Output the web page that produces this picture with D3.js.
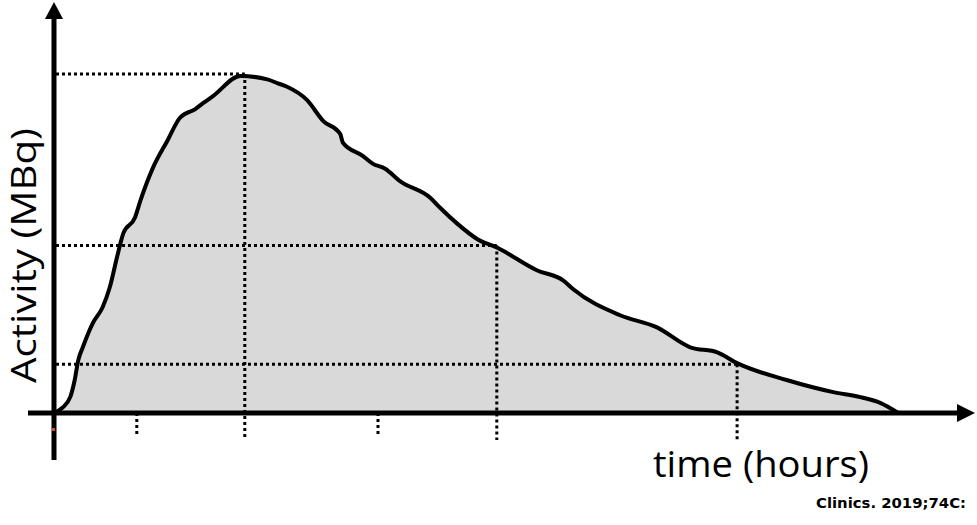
<!DOCTYPE html>
<html>
<head>
<meta charset="utf-8">
<script src="https://cdn.jsdelivr.net/npm/d3@7"></script>
<style>
  html, body { margin: 0; padding: 0; background: #fff; }
  svg { display: block; }
</style>
</head>
<body>
<svg id="chart" width="977" height="525"></svg>
<script>
// ---- data (arbitrary units: time 0..100, activity 0..100 = peak) ----
const timeValues = [0, 0.9, 1.8, 2.3, 2.7, 3.2, 4.3, 5.4, 6.2, 7.0, 7.7, 9.0, 9.6, 11.0, 12.6, 14.0, 15.7, 16.6, 17.7, 20.7, 23.7, 24.8, 25.9, 28.1, 29.9, 31.8, 32.1, 34.3, 35.4, 36.8, 38.4, 41.8, 42.9, 44.8, 47.1, 49.2, 53.7, 56.6, 57.7, 62.9, 67.0, 70.7, 73.7, 75.9, 81.4, 86.6, 89.6, 91.8, 93.8];
const activityValues = [0, 1.5, 4.7, 9.8, 15.7, 19.5, 26.6, 31.4, 37.3, 46.2, 53.3, 58.0, 63.0, 72.8, 80.8, 87.6, 90.2, 92.0, 94.1, 100, 99.0, 97.9, 96.8, 92.9, 86.7, 82.8, 80.2, 76.3, 74.0, 72.5, 68.9, 63.9, 60.9, 56.2, 51.5, 49.1, 42.3, 39.3, 36.7, 29.0, 25.4, 19.5, 18.0, 14.8, 9.8, 6.2, 4.7, 3.0, 0];
// guide points (peak, half, low) with dotted lines to both axes
const guideTimes = [21.2, 49.2, 75.9];
const guideActivities = [100.6, 49.7, 14.5];
// extra dotted ticks under the time axis
const extraTickTimes = [9.2, 36.0];

const yLabel = "Activity (MBq)";
const xLabel = "time (hours)";
const sourceLabel = "Clinics. 2019;74C:";

// ---- layout ----
const svg = d3.select("#chart");
const x = d3.scaleLinear().domain([0, 100]).range([54, 954]);
const y = d3.scaleLinear().domain([0, 100]).range([413, 76]);

const pts = timeValues.map((t, i) => ({ t, a: activityValues[i] }));

// area fill
svg.append("path")
  .datum(pts)
  .attr("fill", "#d9d9d9")
  .attr("d", d3.area().x(d => x(d.t)).y0(y(0)).y1(d => y(d.a)).curve(d3.curveMonotoneX));

// dotted guides
const dot = sel => sel.attr("stroke", "#000").attr("stroke-width", 3).attr("stroke-dasharray", "3,3").attr("fill", "none");
guideTimes.forEach((t, i) => {
  svg.append("line").call(dot)
    .attr("x1", x(0) + 2).attr("x2", x(t))
    .attr("y1", y(guideActivities[i])).attr("y2", y(guideActivities[i]));
  svg.append("line").call(dot)
    .attr("x1", x(t)).attr("x2", x(t))
    .attr("y1", y(guideActivities[i])).attr("y2", y(0) + 27);
});
extraTickTimes.forEach(t => {
  svg.append("line").call(dot)
    .attr("x1", x(t)).attr("x2", x(t))
    .attr("y1", y(0)).attr("y2", y(0) + 23);
});

// curve stroke
svg.append("path")
  .datum(pts)
  .attr("fill", "none")
  .attr("stroke", "#000")
  .attr("stroke-width", 4)
  .attr("stroke-linejoin", "round")
  .attr("d", d3.line().x(d => x(d.t)).y(d => y(d.a)).curve(d3.curveMonotoneX));

// axes
const ox = x(0), oy = y(0);
svg.append("line").attr("x1", ox).attr("x2", ox).attr("y1", oy + 47).attr("y2", 18)
  .attr("stroke", "#000").attr("stroke-width", 5);
svg.append("path").attr("d", `M${ox},2 L${ox - 9},19 L${ox + 9},19 Z`).attr("fill", "#000");
svg.append("line").attr("x1", 28).attr("x2", 958).attr("y1", oy).attr("y2", oy)
  .attr("stroke", "#000").attr("stroke-width", 5);
svg.append("path").attr("d", `M975,${oy} L957,${oy - 9} L957,${oy + 9} Z`).attr("fill", "#000");
svg.append("rect").attr("x", ox - 2).attr("y", oy + 15).attr("width", 3).attr("height", 3).attr("fill", "#e0403a");

// labels
svg.append("text")
  .attr("transform", `translate(36,383) rotate(-90)`)
  .attr("font-family", "'Open Sans', sans-serif")
  .attr("font-size", 34)
  .attr("fill", "#000")
  .attr("textLength", 255)
  .attr("lengthAdjust", "spacingAndGlyphs")
  .text(yLabel);

svg.append("text")
  .attr("x", 653).attr("y", 477)
  .attr("font-family", "'Open Sans', sans-serif")
  .attr("font-size", 37)
  .attr("fill", "#000")
  .attr("textLength", 216)
  .attr("lengthAdjust", "spacingAndGlyphs")
  .text(xLabel);

svg.append("text")
  .attr("x", 816).attr("y", 508)
  .attr("font-family", "'DejaVu Sans', sans-serif")
  .attr("font-size", 14.5)
  .attr("font-weight", "bold")
  .attr("fill", "#000")
  .attr("textLength", 150)
  .attr("lengthAdjust", "spacingAndGlyphs")
  .text(sourceLabel);
</script>
</body>
</html>
